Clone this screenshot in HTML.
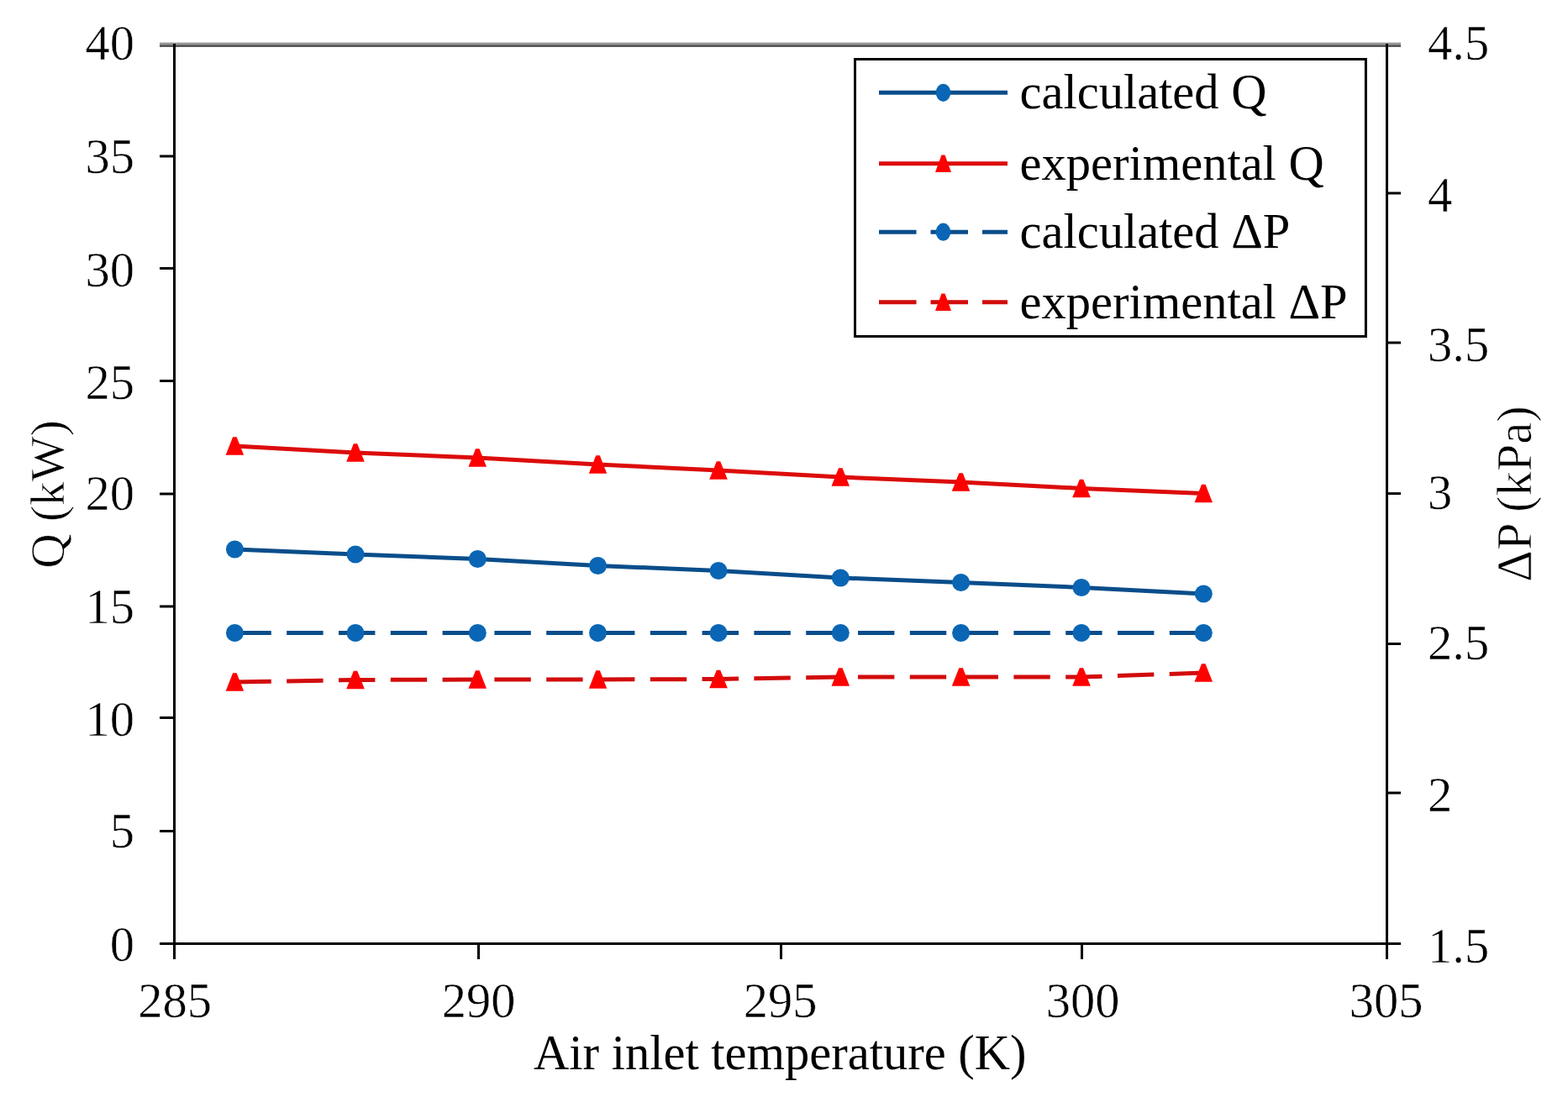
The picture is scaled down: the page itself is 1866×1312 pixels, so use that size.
<!DOCTYPE html>
<html><head><meta charset="utf-8"><title>Q and dP vs air inlet temperature</title>
<style>
html,body{margin:0;padding:0;background:#fff;}
body{width:1866px;height:1312px;overflow:hidden;}
svg{display:block;}
text{font-family:"Liberation Serif","Times New Roman",serif;font-size:58.5px;fill:#000;}
.tk{stroke:#fff;stroke-width:0.5px;}
.rt{stroke:#fff;stroke-width:0.7px;}
</style></head><body>
<svg width="1866" height="1312" viewBox="0 0 1866 1312">
<rect width="1866" height="1312" fill="#fff"/>
<rect x="190" y="50.6" width="1477" height="2.6" fill="#9a9a9a"/>
<rect x="190" y="53.2" width="1477" height="2.8" fill="#555"/>
<line x1="207.5" y1="52.0" x2="207.5" y2="1142.0" stroke="#000" stroke-width="3"/>
<line x1="1650.5" y1="52.0" x2="1650.5" y2="1142.0" stroke="#000" stroke-width="3"/>
<line x1="190" y1="1123.5" x2="1667" y2="1123.5" stroke="#000" stroke-width="3"/>
<line x1="190" y1="186" x2="207.5" y2="186" stroke="#000" stroke-width="3"/>
<line x1="190" y1="319.5" x2="207.5" y2="319.5" stroke="#000" stroke-width="3"/>
<line x1="190" y1="453.5" x2="207.5" y2="453.5" stroke="#000" stroke-width="3"/>
<line x1="190" y1="588" x2="207.5" y2="588" stroke="#000" stroke-width="3"/>
<line x1="190" y1="722" x2="207.5" y2="722" stroke="#000" stroke-width="3"/>
<line x1="190" y1="854.5" x2="207.5" y2="854.5" stroke="#000" stroke-width="3"/>
<line x1="190" y1="989.5" x2="207.5" y2="989.5" stroke="#000" stroke-width="3"/>
<line x1="1650.5" y1="230" x2="1667" y2="230" stroke="#000" stroke-width="3"/>
<line x1="1650.5" y1="408" x2="1667" y2="408" stroke="#000" stroke-width="3"/>
<line x1="1650.5" y1="587.6" x2="1667" y2="587.6" stroke="#000" stroke-width="3"/>
<line x1="1650.5" y1="766.5" x2="1667" y2="766.5" stroke="#000" stroke-width="3"/>
<line x1="1650.5" y1="944" x2="1667" y2="944" stroke="#000" stroke-width="3"/>
<line x1="569.5" y1="1123.5" x2="569.5" y2="1142.0" stroke="#000" stroke-width="3"/>
<line x1="929.5" y1="1123.5" x2="929.5" y2="1142.0" stroke="#000" stroke-width="3"/>
<line x1="1287.5" y1="1123.5" x2="1287.5" y2="1142.0" stroke="#000" stroke-width="3"/>
<text class="tk" x="160" y="70.8" text-anchor="end">40</text>
<text class="tk" x="160" y="205.8" text-anchor="end">35</text>
<text class="tk" x="160" y="340.8" text-anchor="end">30</text>
<text class="tk" x="160" y="474.5" text-anchor="end">25</text>
<text class="tk" x="160" y="606.5" text-anchor="end">20</text>
<text class="tk" x="160" y="741.5" text-anchor="end">15</text>
<text class="tk" x="160" y="875.8" text-anchor="end">10</text>
<text class="tk" x="160" y="1008.8" text-anchor="end">5</text>
<text class="tk" x="160" y="1144.4" text-anchor="end">0</text>
<text class="tk" x="1699" y="71.0">4.5</text>
<text class="tk" x="1699" y="251.5">4</text>
<text class="tk" x="1699" y="429.5">3.5</text>
<text class="tk" x="1699" y="606.3">3</text>
<text class="tk" x="1699" y="785.3">2.5</text>
<text class="tk" x="1699" y="966.3">2</text>
<text class="tk" x="1699" y="1145.5">1.5</text>
<text class="tk" x="208" y="1210.7" text-anchor="middle">285</text>
<text class="tk" x="569.7" y="1210.7" text-anchor="middle">290</text>
<text class="tk" x="928.5" y="1210.7" text-anchor="middle">295</text>
<text class="tk" x="1288.7" y="1210.7" text-anchor="middle">300</text>
<text class="tk" x="1649.7" y="1210.7" text-anchor="middle">305</text>
<text x="928.3" y="1273" text-anchor="middle">Air inlet temperature (K)</text>
<text class="rt" transform="translate(76.2,588.5) rotate(-90)" text-anchor="middle" style="font-size:57.3px">Q (kW)</text>
<text class="rt" transform="translate(1821.5,588) rotate(-90)" text-anchor="middle">&#916;P (kPa)</text>
<polyline points="279.4,531.0 423.0,539.0 568.3,545.0 711.5,553.0 855.0,560.0 1000.3,568.0 1143.6,574.0 1287.0,581.5 1432.3,587.5" fill="none" stroke="#dc0c0c" stroke-width="5" stroke-linejoin="round"/>
<polyline points="279.4,654.0 423.0,660.0 568.3,665.5 711.5,673.5 855.0,679.5 1000.3,688.0 1143.6,693.5 1287.0,699.5 1432.3,707.0" fill="none" stroke="#0a4d8a" stroke-width="5" stroke-linejoin="round"/>
<polyline points="279.4,753.5 423.0,753.5 568.3,753.5 711.5,753.5 855.0,753.5 1000.3,753.5 1143.6,753.5 1287.0,753.5 1432.3,753.5" fill="none" stroke="#0a4d8a" stroke-width="5" stroke-linejoin="round" stroke-dasharray="43.4 18.4"/>
<polyline points="279.4,812.0 423.0,809.5 568.3,809.0 711.5,809.0 855.0,808.5 1000.3,806.0 1143.6,806.0 1287.0,806.0 1432.3,801.0" fill="none" stroke="#d20c0c" stroke-width="5" stroke-linejoin="round" stroke-dasharray="43.4 18.4"/>
<circle cx="279.4" cy="654" r="10.5" fill="#0a66b4"/>
<circle cx="423.0" cy="660" r="10.5" fill="#0a66b4"/>
<circle cx="568.3" cy="665.5" r="10.5" fill="#0a66b4"/>
<circle cx="711.5" cy="673.5" r="10.5" fill="#0a66b4"/>
<circle cx="855.0" cy="679.5" r="10.5" fill="#0a66b4"/>
<circle cx="1000.3" cy="688" r="10.5" fill="#0a66b4"/>
<circle cx="1143.6" cy="693.5" r="10.5" fill="#0a66b4"/>
<circle cx="1287.0" cy="699.5" r="10.5" fill="#0a66b4"/>
<circle cx="1432.3" cy="707" r="10.5" fill="#0a66b4"/>
<circle cx="279.4" cy="753.5" r="10.5" fill="#0a66b4"/>
<circle cx="423.0" cy="753.5" r="10.5" fill="#0a66b4"/>
<circle cx="568.3" cy="753.5" r="10.5" fill="#0a66b4"/>
<circle cx="711.5" cy="753.5" r="10.5" fill="#0a66b4"/>
<circle cx="855.0" cy="753.5" r="10.5" fill="#0a66b4"/>
<circle cx="1000.3" cy="753.5" r="10.5" fill="#0a66b4"/>
<circle cx="1143.6" cy="753.5" r="10.5" fill="#0a66b4"/>
<circle cx="1287.0" cy="753.5" r="10.5" fill="#0a66b4"/>
<circle cx="1432.3" cy="753.5" r="10.5" fill="#0a66b4"/>
<polygon points="268.6,541.8 277.1,520.2 281.6,520.2 290.1,541.8" fill="#ff0000"/>
<polygon points="412.2,549.8 420.8,528.2 425.2,528.2 433.8,549.8" fill="#ff0000"/>
<polygon points="557.5,555.8 566.0,534.2 570.5,534.2 579.0,555.8" fill="#ff0000"/>
<polygon points="700.8,563.8 709.2,542.2 713.8,542.2 722.2,563.8" fill="#ff0000"/>
<polygon points="844.2,570.8 852.8,549.2 857.2,549.2 865.8,570.8" fill="#ff0000"/>
<polygon points="989.5,578.8 998.0,557.2 1002.5,557.2 1011.0,578.8" fill="#ff0000"/>
<polygon points="1132.8,584.8 1141.3,563.2 1145.8,563.2 1154.3,584.8" fill="#ff0000"/>
<polygon points="1276.2,592.2 1284.8,570.8 1289.2,570.8 1297.8,592.2" fill="#ff0000"/>
<polygon points="1421.5,598.2 1430.0,576.8 1434.5,576.8 1443.0,598.2" fill="#ff0000"/>
<polygon points="268.6,822.8 277.1,801.2 281.6,801.2 290.1,822.8" fill="#ff0000"/>
<polygon points="412.2,820.2 420.8,798.8 425.2,798.8 433.8,820.2" fill="#ff0000"/>
<polygon points="557.5,819.8 566.0,798.2 570.5,798.2 579.0,819.8" fill="#ff0000"/>
<polygon points="700.8,819.8 709.2,798.2 713.8,798.2 722.2,819.8" fill="#ff0000"/>
<polygon points="844.2,819.2 852.8,797.8 857.2,797.8 865.8,819.2" fill="#ff0000"/>
<polygon points="989.5,816.8 998.0,795.2 1002.5,795.2 1011.0,816.8" fill="#ff0000"/>
<polygon points="1132.8,816.8 1141.3,795.2 1145.8,795.2 1154.3,816.8" fill="#ff0000"/>
<polygon points="1276.2,816.8 1284.8,795.2 1289.2,795.2 1297.8,816.8" fill="#ff0000"/>
<polygon points="1421.5,811.8 1430.0,790.2 1434.5,790.2 1443.0,811.8" fill="#ff0000"/>
<rect x="1017.5" y="70.5" width="607.9" height="330" fill="#fff" stroke="#000" stroke-width="3"/>
<line x1="1046" y1="110.3" x2="1199" y2="110.3" stroke="#0a4d8a" stroke-width="5"/>
<ellipse cx="1122.5" cy="110.3" rx="8.8" ry="10.6" fill="#0a66b4"/>
<text x="1213.5" y="129">calculated Q</text>
<line x1="1046" y1="194.8" x2="1199" y2="194.8" stroke="#dc0c0c" stroke-width="5"/>
<polygon points="1113.0,205.1 1120.5,184.6 1124.5,184.6 1132.0,205.1" fill="#ff0000"/>
<text x="1213.5" y="213.5">experimental Q</text>
<line x1="1046" y1="276.2" x2="1199" y2="276.2" stroke="#0a4d8a" stroke-width="5" stroke-dasharray="44.5 17"/>
<ellipse cx="1122.5" cy="276.2" rx="8.8" ry="10.6" fill="#0a66b4"/>
<text x="1213.5" y="295">calculated &#916;P</text>
<line x1="1046" y1="359.7" x2="1199" y2="359.7" stroke="#d20c0c" stroke-width="5" stroke-dasharray="44.5 17"/>
<polygon points="1113.0,369.9 1120.5,349.4 1124.5,349.4 1132.0,369.9" fill="#ff0000"/>
<text x="1213.5" y="378.5">experimental &#916;P</text>
</svg></body></html>
